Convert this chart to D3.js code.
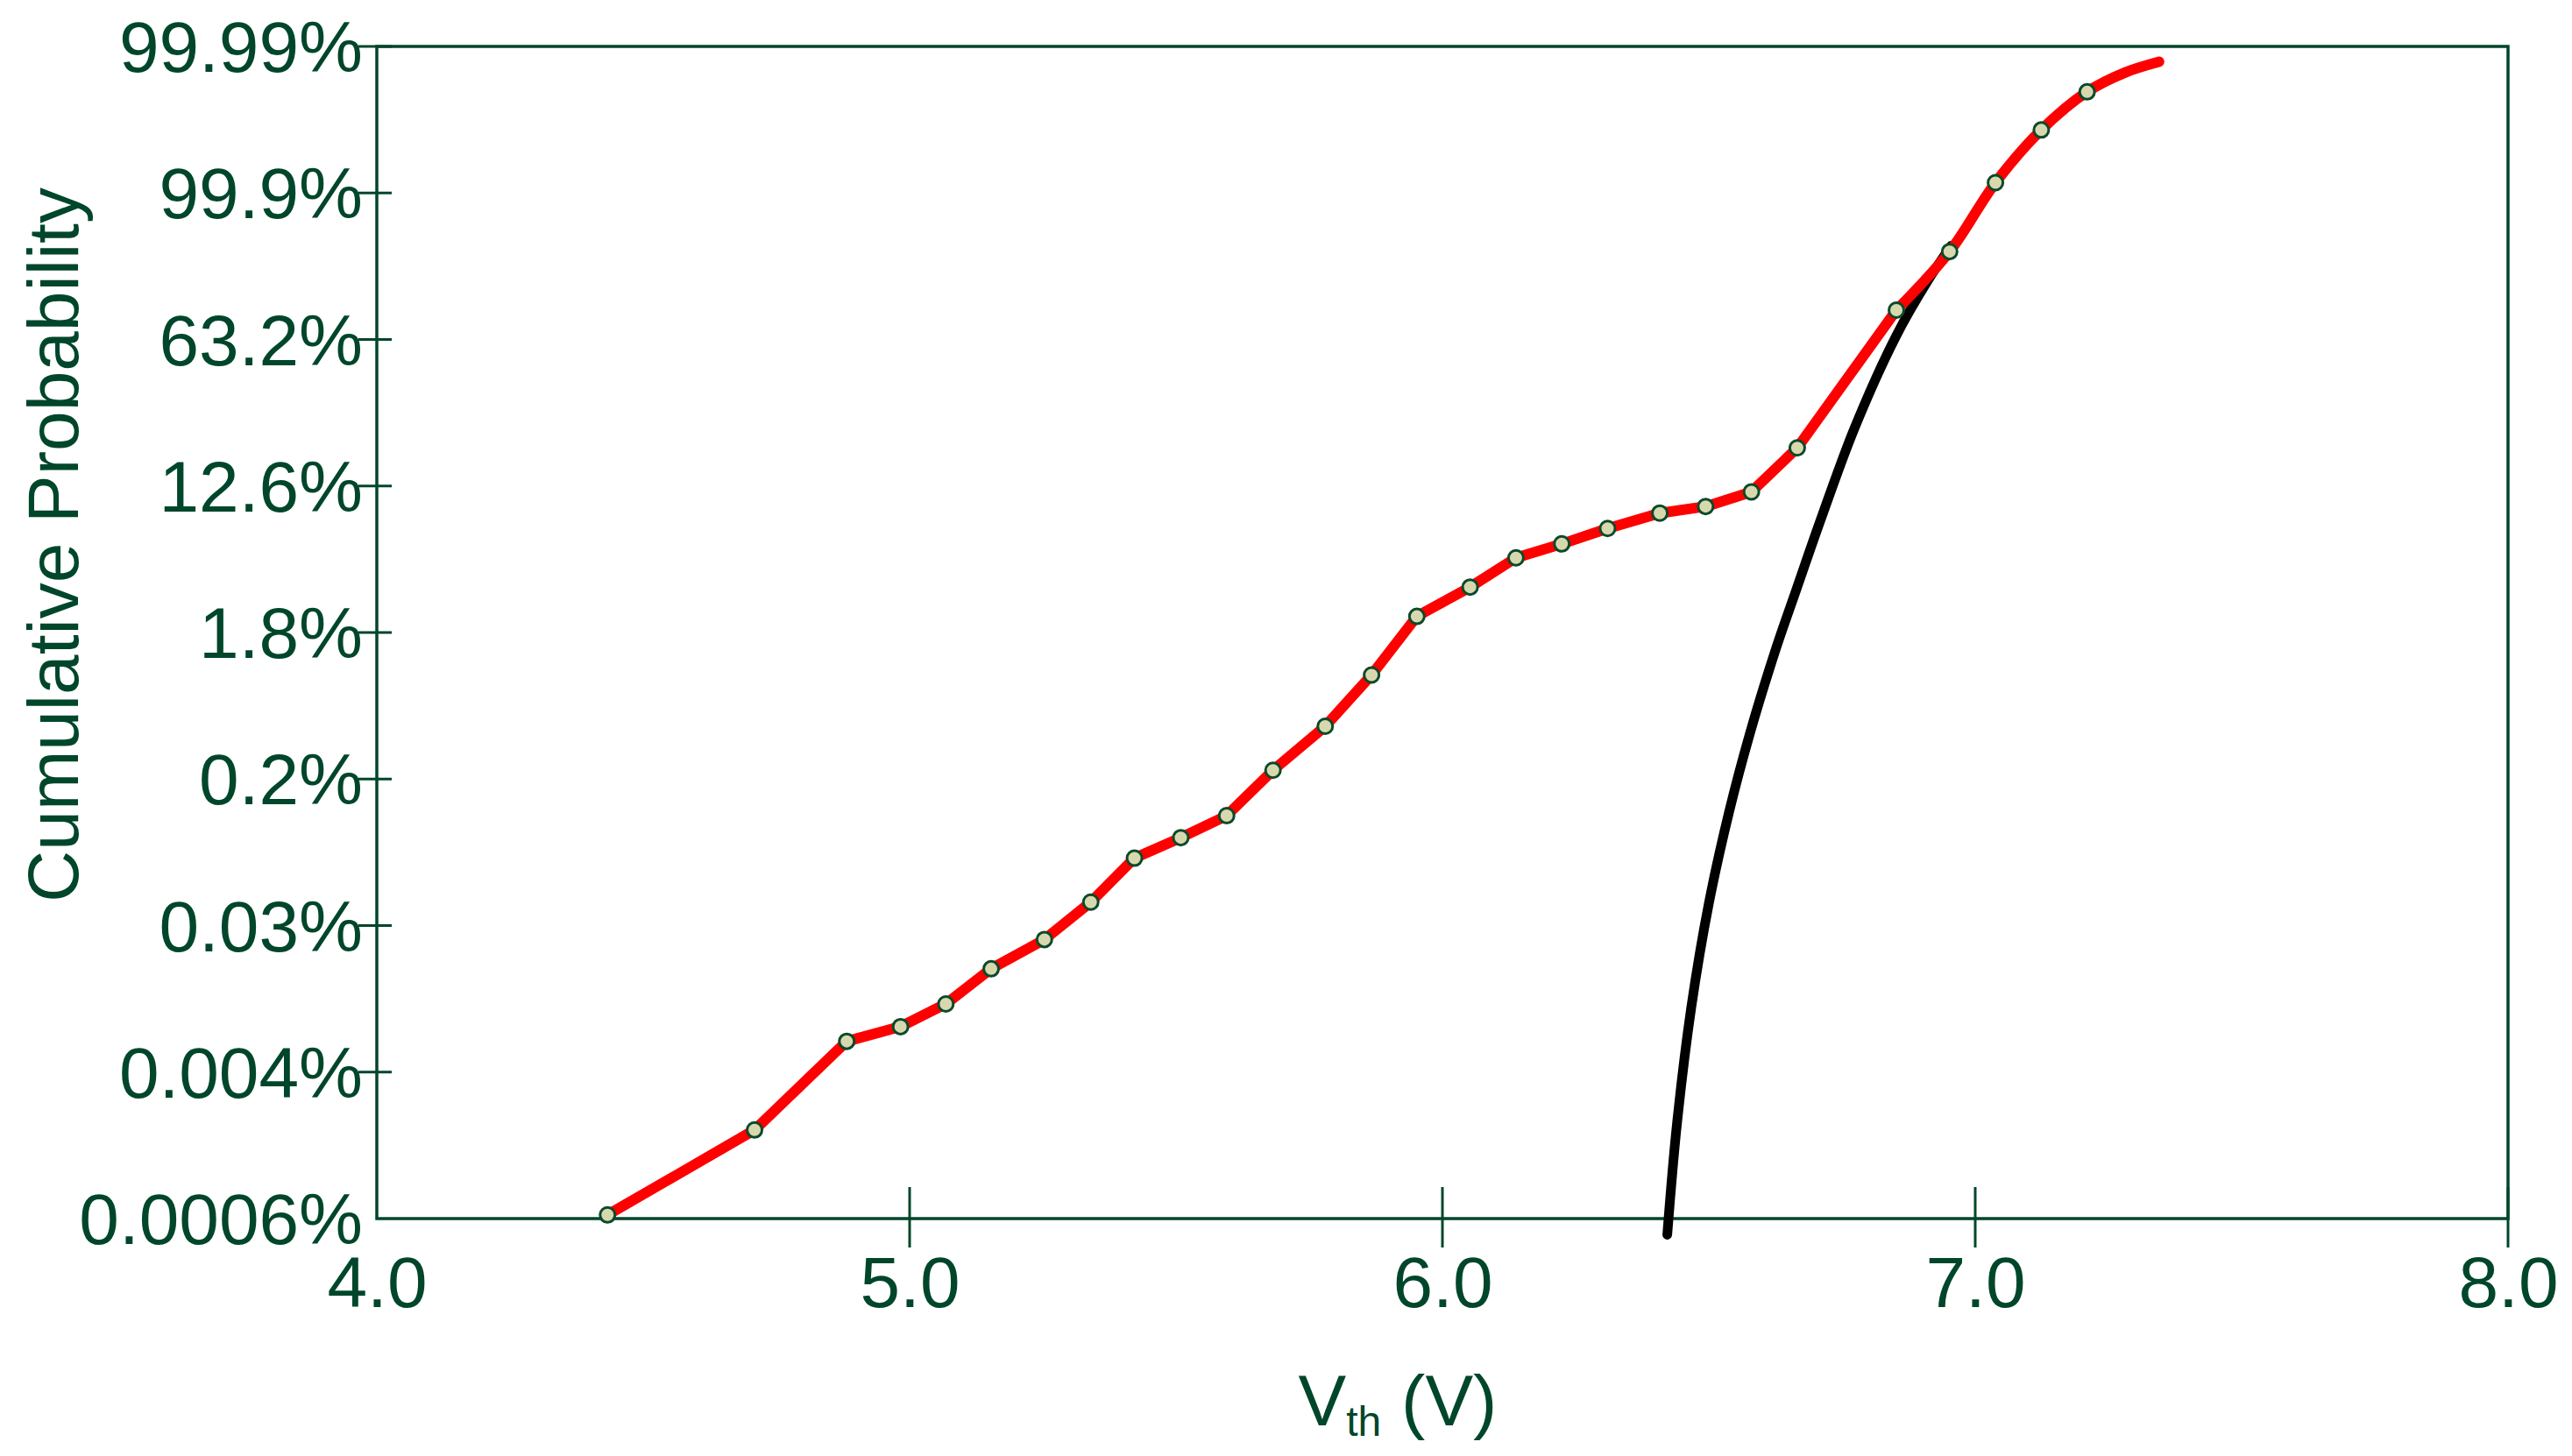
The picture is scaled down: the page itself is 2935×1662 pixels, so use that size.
<!DOCTYPE html>
<html>
<head>
<meta charset="utf-8">
<script src="https://cdn.jsdelivr.net/npm/d3@7/dist/d3.min.js"></script>
<style>
	html, body { margin: 0; padding: 0; background: #ffffff; }
	#outer { width: 2935px; height: 1662px; }
</style>
</head>
<body>
<div id="outer"></div>
<script>
////////// DATA //////////
// measured points: Vth (V) and Weibull variate ln(-ln(1-F))
const vthValues = [4.433, 4.709, 4.882, 4.983, 5.068, 5.153, 5.253, 5.340, 5.422, 5.509,
	5.595, 5.682, 5.780, 5.867, 5.952, 6.052, 6.138, 6.224, 6.310, 6.408,
	6.494, 6.580, 6.666, 6.852, 6.952, 7.038, 7.124, 7.210];
const weibullValues = [-11.95, -10.79, -9.58, -9.38, -9.07, -8.59, -8.19, -7.68, -7.08, -6.80,
	-6.50, -5.88, -5.28, -4.58, -3.78, -3.38, -2.98, -2.79, -2.58, -2.37,
	-2.28, -2.08, -1.48, 0.40, 1.20, 2.14, 2.86, 3.38];
// red line continues past the last marker
const tailVth = [7.28, 7.345];
const tailWeibull = [3.64, 3.79];

// black fitted curve
const fitVth = [6.422, 6.440, 6.467, 6.500, 6.538, 6.577, 6.626, 6.664, 6.710, 6.774, 6.851, 6.910, 6.955];
const fitWeibull = [-12.22, -10.72, -9.12, -7.70, -6.45, -5.38, -4.22, -3.42, -2.46, -1.20, 0.04, 0.79, 1.28];

// axes
const xTickValues = [4, 5, 6, 7, 8];
const xTickLabels = ['4.0', '5.0', '6.0', '7.0', '8.0'];
const yTickValues = [-12, -10, -8, -6, -4, -2, 0, 2, 4];
const yTickLabels = ['0.0006%', '0.004%', '0.03%', '0.2%', '1.8%', '12.6%', '63.2%', '99.9%', '99.99%'];


function drawChart () {
	////////// Hard Coded Defs //////////
	const width = 2935;
	const height = 1662;
	const margin = {top: 53, left: 430, right: 73, bottom: 271};
	const axisColor = '#00462a';
	const textColor = '#00462a';
	const font = "'Liberation Sans', Arial, sans-serif";
	const fontSize = 82;
	const smoothFrom = 23;	// index of the marker where the red line turns smooth

	const svg = d3.select('#outer').append('svg')
		.attr('width', width)
		.attr('height', height)
		.style('display', 'block')
		.style('background', '#ffffff');

	const x = d3.scaleLinear()
		.domain([4, 8])
		.range([margin.left, width - margin.right]);
	const y = d3.scaleLinear()
		.domain([-12, 4])
		.range([height - margin.bottom, margin.top]);

	// ********************************************* FRAME ******************************************************* //
	svg.append('rect')
		.attr('x', x(4))
		.attr('y', y(4))
		.attr('width', x(8) - x(4))
		.attr('height', y(-12) - y(4))
		.attr('fill', 'none')
		.attr('stroke', axisColor)
		.attr('stroke-width', 3.5);

	// tick marks cross the axis lines
	svg.append('g').attr('class', 'yTickMarks')
		.selectAll('line')
		.data(yTickValues.slice(1))
		.join('line')
		.attr('x1', x(4) - 21)
		.attr('x2', x(4) + 17)
		.attr('y1', d => y(d))
		.attr('y2', d => y(d))
		.attr('stroke', axisColor)
		.attr('stroke-width', 3);

	svg.append('g').attr('class', 'xTickMarks')
		.selectAll('line')
		.data(xTickValues.slice(1))
		.join('line')
		.attr('x1', d => x(d))
		.attr('x2', d => x(d))
		.attr('y1', y(-12) - 36)
		.attr('y2', y(-12) + 33)
		.attr('stroke', axisColor)
		.attr('stroke-width', 3);

	// ********************************************* AXIS LABELS ******************************************************* //
	const yAxis = svg.append('g')
		.attr('transform', `translate(${x(4) - 16},0)`)
		.call(d3.axisLeft(y).tickValues(yTickValues).tickFormat((d, i) => yTickLabels[i]).tickSize(0).tickPadding(0));
	yAxis.select('.domain').remove();
	yAxis.selectAll('text')
		.attr('fill', textColor)
		.attr('font-family', font)
		.attr('font-size', fontSize)
		.attr('dy', '0.35em');

	const xAxis = svg.append('g')
		.attr('transform', `translate(0,${y(-12)})`)
		.call(d3.axisBottom(x).tickValues(xTickValues).tickFormat((d, i) => xTickLabels[i]).tickSize(0).tickPadding(0));
	xAxis.select('.domain').remove();
	xAxis.selectAll('text')
		.attr('fill', textColor)
		.attr('font-family', font)
		.attr('font-size', fontSize)
		.attr('dy', null)
		.attr('y', 101);

	// ********************************************* TITLES ******************************************************* //
	svg.append('text')
		.attr('transform', `translate(89, ${(y(4) + y(-12)) / 2 - 100}) rotate(-90)`)
		.attr('text-anchor', 'middle')
		.attr('fill', textColor)
		.attr('font-family', font)
		.attr('font-size', fontSize)
		.text('Cumulative Probability');

	const xTitle = svg.append('text')
		.attr('x', 1595)
		.attr('y', 1627)
		.attr('text-anchor', 'middle')
		.attr('fill', textColor)
		.attr('font-family', font)
		.attr('font-size', fontSize);
	xTitle.append('tspan').text('V');
	xTitle.append('tspan').attr('font-size', 48).attr('dy', 12).text('th');
	xTitle.append('tspan').attr('dy', -12).text(' (V)');

	// ********************************************* CURVES ******************************************************* //
	const fitData = fitVth.map((v, i) => [v, fitWeibull[i]]);
	svg.append('path')
		.datum(fitData)
		.attr('fill', 'none')
		.attr('stroke', '#000000')
		.attr('stroke-width', 11)
		.attr('stroke-linecap', 'round')
		.attr('d', d3.line().x(d => x(d[0])).y(d => y(d[1])).curve(d3.curveCatmullRom.alpha(0.5)));

	const pointData = vthValues.map((v, i) => [v, weibullValues[i]]);
	const tailData = tailVth.map((v, i) => [v, tailWeibull[i]]);
	const redLine = d3.line().x(d => x(d[0])).y(d => y(d[1]));

	svg.append('path')
		.datum(pointData.slice(0, smoothFrom + 1))
		.attr('fill', 'none')
		.attr('stroke', '#ff0000')
		.attr('stroke-width', 12)
		.attr('stroke-linecap', 'round')
		.attr('stroke-linejoin', 'round')
		.attr('d', redLine);

	svg.append('path')
		.datum(pointData.slice(smoothFrom).concat(tailData))
		.attr('fill', 'none')
		.attr('stroke', '#ff0000')
		.attr('stroke-width', 12)
		.attr('stroke-linecap', 'round')
		.attr('stroke-linejoin', 'round')
		.attr('d', redLine.curve(d3.curveCatmullRom.alpha(0.5)));

	svg.append('g').attr('class', 'markers')
		.selectAll('circle')
		.data(pointData)
		.join('circle')
		.attr('cx', d => x(d[0]))
		.attr('cy', d => y(d[1]))
		.attr('r', 8.5)
		.attr('fill', '#d8d8ae')
		.attr('stroke', '#0b4a2a')
		.attr('stroke-width', 3);
}

drawChart();
</script>
</body>
</html>
